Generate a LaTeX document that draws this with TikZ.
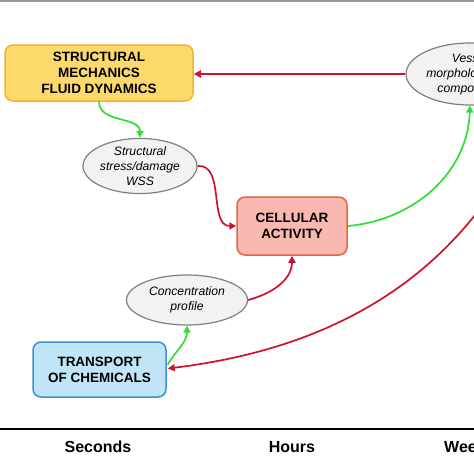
\documentclass[tikz,border=0pt]{standalone}
\usepackage{fontspec}
\setmainfont{Liberation Sans}
\usetikzlibrary{arrows.meta,shapes.geometric,calc}
\definecolor{ylwfill}{HTML}{FDD96C}
\definecolor{ylwline}{HTML}{F2B233}
\definecolor{cellfill}{HTML}{F9B9B1}
\definecolor{cellline}{HTML}{E4653F}
\definecolor{trfill}{HTML}{BFE5F7}
\definecolor{trline}{HTML}{3E8FD3}
\definecolor{elfill}{HTML}{F2F2F2}
\definecolor{elline}{HTML}{808080}
\definecolor{redarr}{HTML}{D0112B}
\definecolor{grnarr}{HTML}{33DD33}
\tikzset{
  bigbox/.style={draw, rounded corners=8pt, line width=1.5pt, align=center, inner sep=0pt,
    font=\fontsize{13.5}{16.3}\selectfont\bfseries},
  oval/.style={ellipse, draw=elline, fill=elfill, line width=1.2pt, align=center, inner sep=0pt,
    font=\fontsize{12.2}{15}\selectfont\itshape},
  redlink/.style={draw=redarr, line width=1.7pt, -{Triangle[length=7pt,width=7pt]}},
  grnlink/.style={draw=grnarr, line width=1.7pt, -{Triangle[length=7pt,width=7pt]}},
  timelbl/.style={font=\fontsize{16}{18}\selectfont\bfseries}
}
\begin{document}
\begin{tikzpicture}[x=1pt,y=-1pt]
\useasboundingbox (0,0) rectangle (474,474);
\clip (0,0) rectangle (474,474);
\fill[white] (0,0) rectangle (474,474);
\coordinate (tl) at (0,1);
\coordinate (tr) at (474,1);
\draw[gray!80, line width=2pt] (tl) -- (tr);

\node[bigbox, draw=ylwline, fill=ylwfill, minimum width=188pt, minimum height=56pt] (mech) at (99,73)
  {STRUCTURAL\\MECHANICS\\FLUID DYNAMICS};
\node[oval, minimum width=128pt, minimum height=62pt] (vessel) at (470,74)
  {Vessel\\morphology and\\composition};
\node[oval, minimum width=114pt, minimum height=54pt] (stress) at (140,166)
  {Structural\\stress/damage\\WSS};
\node[bigbox, draw=cellline, fill=cellfill, minimum width=110pt, minimum height=58pt] (cell) at (292,226)
  {CELLULAR\\ACTIVITY};
\node[oval, minimum width=121pt, minimum height=50pt] (conc) at (187,300)
  {Concentration\\profile};
\node[bigbox, draw=trline, fill=trfill, minimum width=133pt, minimum height=55pt] (trans) at (99.5,369.5)
  {TRANSPORT\\OF CHEMICALS};

\coordinate (offr) at (500,180);

\draw[redlink] (vessel.west) -- (vessel.west -| mech.east);
\draw[grnlink] (mech.south) to[out=-90,in=90] (stress.north);
\draw[redlink] (stress.east) to[out=5,in=180] (cell.west);
\draw[grnlink] (cell.east) to[out=5,in=-92] (vessel.south);
\draw[redlink] (conc.east) to[out=15,in=-90] (cell.south);
\draw[redlink] (offr) .. controls (430,290) and (320,350) .. ($(trans.east)+(1,-1)$);
\draw[grnlink] ($(trans.east)+(1,-5)$) to[out=60,in=-90] (conc.south);

\coordinate (axl) at (0,429);
\coordinate (axr) at (474,429);
\draw[black, line width=2pt] (axl) -- (axr);
\node[timelbl] (sec) at (98,447) {Seconds};
\node[timelbl] (hrs) at (292,447) {Hours};
\node[timelbl, anchor=west, inner sep=0pt] (wks) at (444,447) {Weeks};
\end{tikzpicture}
\end{document}
